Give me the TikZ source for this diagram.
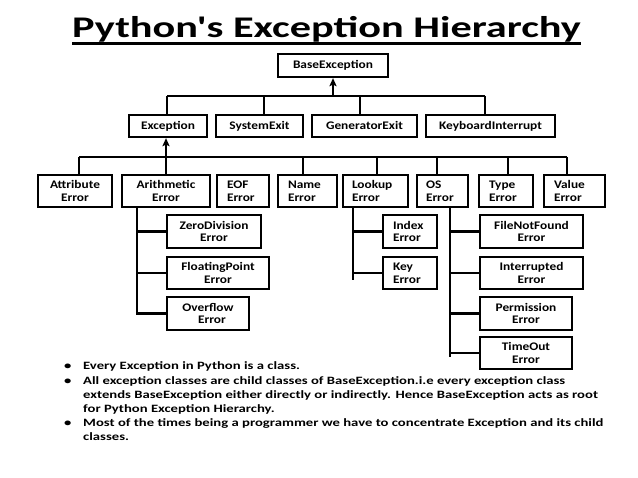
\documentclass[tikz,border=0pt]{standalone}
\usepackage{fontspec}
\setmainfont{Carlito}[FakeStretch=1.15]
\newfontfamily\titlefont{Carlito}[FakeStretch=1.41]
\newfontfamily\bulletfont{Carlito}[FakeStretch=1.31]
\usetikzlibrary{arrows.meta}
\tikzset{
  box/.style={draw=black, line width=2.3pt, fill=white, inner ysep=0pt, font=\bfseries\fontsize{11.6}{12.6}\selectfont},
  conn/.style={draw=black, line width=2.5pt},
  arr/.style={conn, -{Stealth[length=8pt,width=7pt,inset=1.5pt]}},
  txt/.style={inner sep=0pt, anchor=base west, font=\bulletfont\bfseries\fontsize{11.2}{13}\selectfont},
}
% \bx{name}{x1}{y1}{x2}{y2}{xpad}{align}{text}
\newcommand{\bx}[8]{%
  \pgfmathsetmacro{\bw}{#4-#2}\pgfmathsetmacro{\bh}{#5-#3}%
  \pgfmathsetmacro{\tw}{#4-#2-2*#6}%
  \node[box, minimum width=\bw pt, minimum height=\bh pt, inner xsep=#6pt, text width=\tw pt, align=#7] (#1) at ({(#2+#4)/2},{(#3+#5)/2}) {#8};}
\begin{document}
\begin{tikzpicture}[x=1pt,y=-1pt]
\useasboundingbox[fill=white] (0,0) rectangle (638,478);
% title
\node[inner sep=0pt, anchor=base west, font=\titlefont\bfseries\fontsize{30}{32}\selectfont] (title) at (72,38) {Python's Exception Hierarchy};
\draw[line width=2.2pt] ([yshift=-5.5pt]title.base west) -- ([yshift=-5.5pt]title.base east);
% level 1,2
\bx{base}{278}{54}{388}{77}{2}{center}{BaseException\vphantom{y}}
\bx{exc}{129}{115}{207}{137}{2}{center}{Exception\vphantom{y}}
\bx{sysexit}{216}{115}{303}{137}{2}{center}{SystemExit\vphantom{y}}
\bx{genexit}{312}{115}{417}{137}{2}{center}{GeneratorExit\vphantom{y}}
\bx{kbint}{426}{115}{555}{137}{2}{center}{KeyboardInterrupt\vphantom{y}}
% level 3
\bx{attr}{38}{175}{112}{207}{4}{center}{Attribute\\Error}
\bx{arith}{122}{175}{210}{207}{4}{center}{Arithmetic\\Error}
\bx{eof}{217}{175}{269}{207}{10}{left}{EOF\\Error}
\bx{name}{278}{175}{337}{207}{10}{left}{Name\\Error}
\bx{lookup}{343}{175}{408}{207}{9}{left}{Lookup\\Error}
\bx{os}{417}{175}{468}{207}{9}{left}{OS\\Error}
\bx{type}{479}{175}{533}{207}{10}{left}{Type\\Error}
\bx{value}{544}{175}{605}{207}{10}{left}{Value\\Error}
% level 4
\bx{zero}{167}{215}{261}{248}{4}{center}{ZeroDivision\\Error}
\bx{float}{167}{257}{269}{289}{4}{center}{FloatingPoint\\Error}
\bx{over}{167}{297}{249}{330}{4}{center}{Overflow\\\hspace*{8pt}Error}
\bx{index}{383}{215}{437}{248}{10}{left}{Index\\Error}
\bx{key}{383}{257}{437}{289}{10}{left}{Key\\Error}
\bx{fnf}{480}{215}{583}{248}{4}{center}{FileNotFound\\Error}
\bx{intr}{480}{257}{583}{289}{4}{center}{Interrupted\hspace*{10pt}\\Error}
\bx{perm}{480}{297}{572}{330}{4}{center}{Permission\\Error}
\bx{timeout}{480}{337}{572}{369}{4}{center}{TimeOut\hspace*{12pt}\\Error}
% connectors level 1-2
\coordinate (ha) at (167,96);
\coordinate (hb) at (264,96);
\coordinate (hc) at (360,96);
\coordinate (hd) at (485,96);
\coordinate (hm) at (333,96);
\draw[conn] (ha) -- (hd);
\draw[conn] (ha) -- (ha |- exc.north);
\draw[conn] (hb) -- (hb |- sysexit.north);
\draw[conn] (hc) -- (hc |- genexit.north);
\draw[conn] (hd) -- (hd |- kbint.north);
\draw[arr] (hm) -- (base.south);
% connectors level 2-3
\coordinate (la) at (79,157);
\coordinate (lb) at (166,157);
\coordinate (lc) at (303,157);
\coordinate (ld) at (377,157);
\coordinate (le) at (437,157);
\coordinate (lf) at (508,157);
\coordinate (lg) at (567,157);
\draw[conn] (la) -- (lg);
\draw[conn] (la) -- (la |- attr.north);
\draw[conn] (lb) -- (lb |- arith.north);
\draw[conn] (lc) -- (lc |- name.north);
\draw[conn] (ld) -- (ld |- lookup.north);
\draw[conn] (le) -- (le |- os.north);
\draw[conn] (lf) -- (lf |- type.north);
\draw[conn] (lg) -- (lg |- value.north);
\draw[arr] (lb) -- (lb |- exc.south);
% arithmetic subtree
\coordinate (at) at (137,315);
\draw[conn] (at |- arith.south) -- (at);
\draw[conn] (at |- zero.west) -- (zero.west);
\draw[conn] (at |- float.west) -- (float.west);
\draw[conn] (at |- over.west) -- (over.west);
% lookup subtree
\coordinate (lt) at (353,280);
\draw[conn] (lt |- lookup.south) -- (lt);
\draw[conn] (lt |- index.west) -- (index.west);
\draw[conn] (lt |- key.west) -- (key.west);
% os subtree
\coordinate (ot) at (450,357);
\draw[conn] (ot |- os.south) -- (ot);
\draw[conn] (ot |- fnf.west) -- (fnf.west);
\draw[conn] (ot |- intr.west) -- (intr.west);
\draw[conn] (ot |- perm.west) -- (perm.west);
\draw[conn] (ot |- timeout.west) -- (timeout.west);
% bullets
\foreach \yy in {370,384.5,427} {\node[txt] at (64,\yy) {•};}
\node[txt] (t1) at (83,370) {Every Exception in Python is a class.};
\node[txt] (t2) at (83,384.5) {All exception classes are child classes of BaseException.i.e every exception class};
\node[txt] (t3) at (83,398.5) {extends BaseException either directly or indirectly. Hence BaseException acts as root};
\node[txt] (t4) at (83,413) {for Python Exception Hierarchy.};
\node[txt] (t5) at (83,427) {Most of the times being a programmer we have to concentrate Exception and its child};
\node[txt] (t6) at (83,441) {classes.};
\end{tikzpicture}
\end{document}
